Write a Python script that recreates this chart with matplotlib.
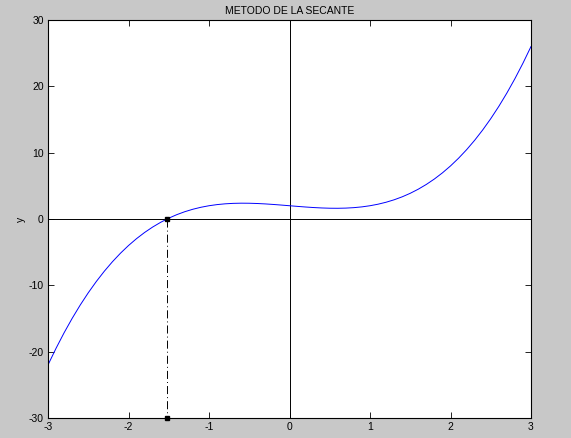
import numpy as np
import matplotlib.pyplot as plt

plt.rcParams["font.family"] = ["Liberation Sans", "DejaVu Sans"]
plt.rcParams["axes.unicode_minus"] = False
plt.rcParams["lines.scale_dashes"] = False

# curve samples
x_vals = np.round(np.arange(-30, 31) / 10, 1)
y_vals = [
    -22.0, -19.489, -17.152, -14.983, -12.976, -11.125, -9.424, -7.867, -6.448, -5.161,
    -4.0, -2.959, -2.032, -1.213, -0.496, 0.125, 0.656, 1.103, 1.472, 1.769,
    2.0, 2.171, 2.288, 2.357, 2.384, 2.375, 2.336, 2.273, 2.192, 2.099,
    2.0, 1.901, 1.808, 1.727, 1.664, 1.625, 1.616, 1.643, 1.712, 1.829,
    2.0, 2.231, 2.528, 2.897, 3.344, 3.875, 4.496, 5.213, 6.032, 6.959,
    8.0, 9.161, 10.448, 11.867, 13.424, 15.125, 16.976, 18.983, 21.152, 23.489,
    26.0,
]

root_x = -1.5214
root_marks_y = [0, -30]

x_ticks = [-3, -2, -1, 0, 1, 2, 3]
y_ticks = [-30, -20, -10, 0, 10, 20, 30]

fig = plt.figure(figsize=(5.71, 4.38), dpi=100, facecolor="#c8c8c8")
ax = fig.add_axes([48 / 571, 1 - 418 / 438, (531 - 48) / 571, (418 - 20) / 438])

ax.axhline(0, color="black", lw=0.7)
ax.axvline(0, color="black", lw=0.7)
ax.plot(x_vals, y_vals, color="#0000ff", lw=0.7)
ax.plot([root_x, root_x], root_marks_y, color="black", lw=0.7,
        ls=(0, (5.8, 2.2, 0.7, 2.2)))
ax.plot([root_x, root_x], root_marks_y, ls="none", color="black",
        marker="s", ms=3.5, clip_on=False, zorder=3)

ax.set_xlim(-3, 3)
ax.set_ylim(-30, 30)
ax.set_xticks(x_ticks)
ax.set_yticks(y_ticks)
ax.tick_params(direction="in", top=True, right=True, labelsize=7.5, length=4, width=0.6, pad=3)
for s in ax.spines.values():
    s.set_linewidth(0.8)

ax.set_title("METODO DE LA SECANTE", fontsize=7.5, pad=4)
ax.set_ylabel("y", fontsize=7.5, labelpad=0)
ax.yaxis.set_label_coords(-0.045, 0.5)

fig.savefig("out.png", dpi=100, facecolor=fig.get_facecolor())
